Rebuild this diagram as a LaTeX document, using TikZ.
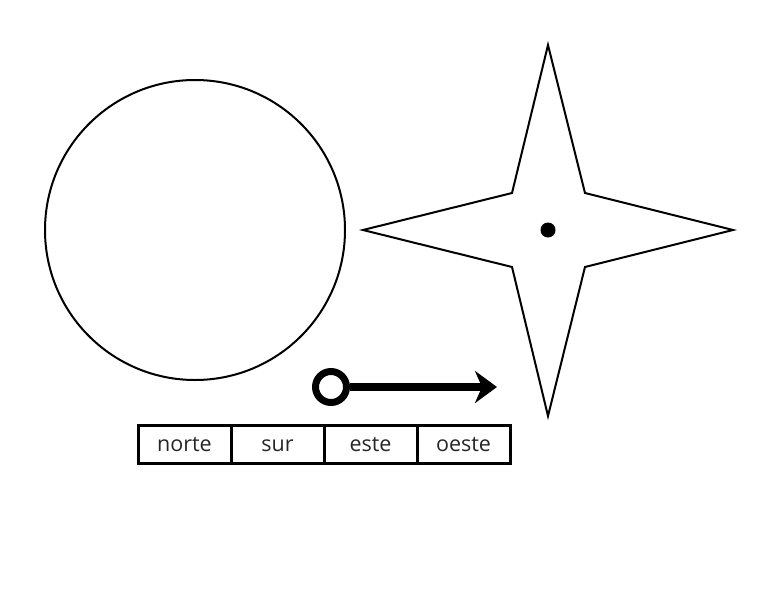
\documentclass[tikz,border=0pt]{standalone}
\usepackage{fontspec}
\setmainfont{Open Sans}
\usetikzlibrary{arrows.meta}

\tikzset{
  cellbox/.style={draw=black, line width=3pt, minimum width=93pt, minimum height=38pt,
    inner sep=0pt, text height=16pt, text depth=1pt,
    font=\fontsize{21.5}{21.5}\selectfont, text=black!85},
  outline/.style={black, line width=2pt}
}

\begin{document}
\begin{tikzpicture}[x=1pt,y=-1pt]
\useasboundingbox (0,0) rectangle (768,594);
% round face
\draw[outline] (195,230) circle (150pt);
% four-point star
\draw[outline, line join=miter] (548,45) -- (585,193) -- (733,230) -- (585,267)
  -- (548,416) -- (512,267) -- (363,230) -- (512,193) -- cycle;
\fill[black] (548,230) circle (7.5pt);
% pointer
\node[circle, draw=black, line width=7pt, minimum size=31pt, inner sep=0pt] (ring) at (331,387) {};
\coordinate (tip) at (497,387);
\draw[black, line width=8.5pt, -{Stealth[length=22pt, width=32pt, inset=7pt]}] (ring.east) -- (tip);
% word strip
\foreach \w [count=\i] in {norte,sur,este,oeste} {
  \node[cellbox] (cell\i) at (138+93*\i-46.5,444) {\w};
}
\end{tikzpicture}
\end{document}
